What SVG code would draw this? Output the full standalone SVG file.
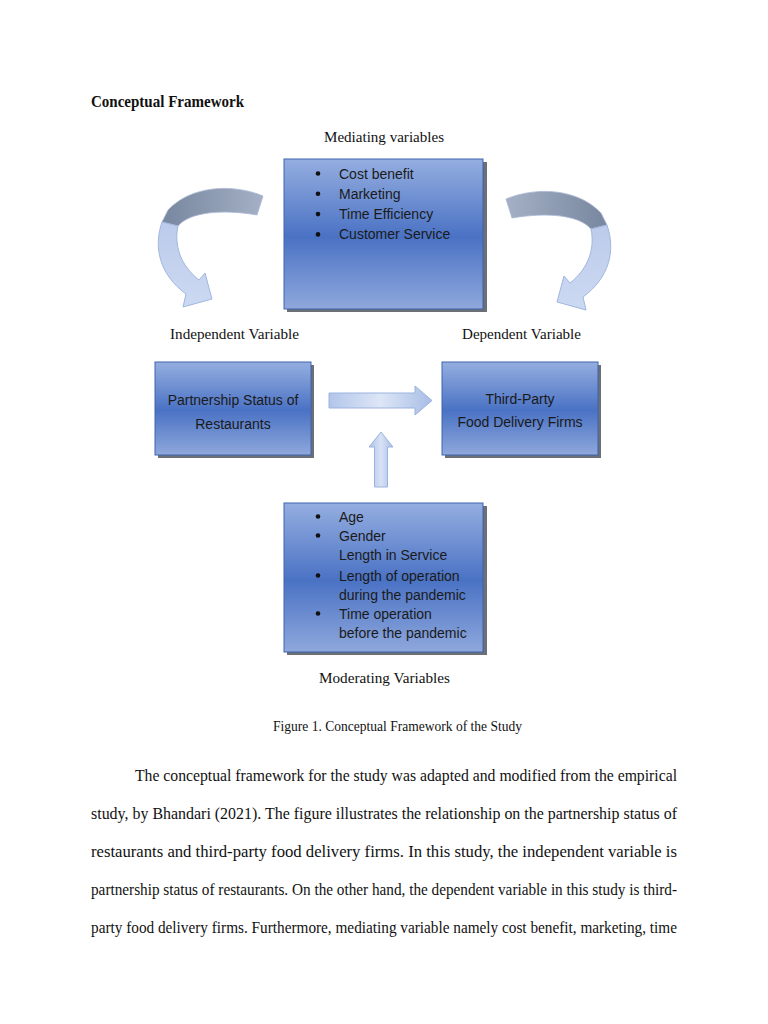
<svg xmlns="http://www.w3.org/2000/svg" width="768" height="1024" viewBox="0 0 768 1024">
<defs>
<linearGradient id="boxg" x1="0" y1="0" x2="0" y2="1">
<stop offset="0" stop-color="#95aee0"/>
<stop offset="0.52" stop-color="#4a72c4"/>
<stop offset="1" stop-color="#8fa8dc"/>
</linearGradient>
<linearGradient id="harr" x1="0" y1="0" x2="1" y2="0">
<stop offset="0" stop-color="#b2c5ea"/>
<stop offset="0.5" stop-color="#dde6f6"/>
<stop offset="1" stop-color="#a8bde6"/>
</linearGradient>
<linearGradient id="varr" x1="0" y1="0" x2="1" y2="0">
<stop offset="0" stop-color="#aec2e8"/>
<stop offset="0.5" stop-color="#d8e2f5"/>
<stop offset="1" stop-color="#a8bde6"/>
</linearGradient>
<linearGradient id="band" x1="0" y1="0" x2="1" y2="0">
<stop offset="0" stop-color="#77879f"/>
<stop offset="1" stop-color="#a4b0c5"/>
</linearGradient>
<linearGradient id="front" x1="0" y1="0" x2="0" y2="1">
<stop offset="0" stop-color="#bccbeb"/>
<stop offset="1" stop-color="#ccd9f2"/>
</linearGradient>
</defs>
<style>
.box{fill:url(#boxg);stroke:#3e64ad;stroke-width:1}
.shadow{fill:#3a3f4a;opacity:0.75}
.bt{font-family:"Liberation Sans",Arial,sans-serif;font-size:14px;fill:#1a1a1a}
.ct{font-family:"Liberation Sans",Arial,sans-serif;font-size:14px;fill:#1a1a1a;text-anchor:middle}
.lbl{font-family:"Liberation Serif","Times New Roman",serif;font-size:15.5px;fill:#111}
.para{font-family:"Liberation Serif","Times New Roman",serif;font-size:16px;fill:#111}
.arr{fill:url(#harr);stroke:#9bb2de;stroke-width:1}
.band{fill:url(#band);stroke:#a9b7d3;stroke-width:0.8}
.front{fill:url(#front);stroke:#a0b6df;stroke-width:1}
</style>
<rect width="768" height="1024" fill="#ffffff"/>

<text x="91" y="107" font-family="'Liberation Serif','Times New Roman',serif" font-size="16" font-weight="bold" fill="#111" textLength="153" lengthAdjust="spacingAndGlyphs">Conceptual Framework</text>

<text class="lbl" x="324" y="142" textLength="120" lengthAdjust="spacingAndGlyphs">Mediating variables</text>
<text class="lbl" x="170" y="339" textLength="129" lengthAdjust="spacingAndGlyphs">Independent Variable</text>
<text class="lbl" x="462" y="339" textLength="119" lengthAdjust="spacingAndGlyphs">Dependent Variable</text>
<text class="lbl" x="319" y="683" textLength="131" lengthAdjust="spacingAndGlyphs">Moderating Variables</text>
<text class="lbl" x="273" y="731" textLength="249" lengthAdjust="spacingAndGlyphs">Figure 1. Conceptual Framework of the Study</text>

<g id="mediating">
<rect class="shadow" x="287" y="162" width="200" height="150"/>
<rect class="box" x="284" y="159" width="199" height="150"/>
<g class="bt">
<circle cx="318" cy="173.5" r="2.3" fill="#111"/>
<circle cx="318" cy="193.8" r="2.3" fill="#111"/>
<circle cx="318" cy="214.1" r="2.3" fill="#111"/>
<circle cx="318" cy="234.4" r="2.3" fill="#111"/>
<text x="339" y="178.5">Cost benefit</text>
<text x="339" y="198.8">Marketing</text>
<text x="339" y="219.1">Time Efficiency</text>
<text x="339" y="239.4">Customer Service</text>
</g>
</g>

<g id="independent">
<rect class="shadow" x="158" y="365" width="156" height="93"/>
<rect class="box" x="155" y="362" width="156" height="93"/>
<text class="ct" x="233" y="405">Partnership Status of</text>
<text class="ct" x="233" y="429">Restaurants</text>
</g>

<g id="dependent">
<rect class="shadow" x="445" y="365" width="156" height="93"/>
<rect class="box" x="442" y="362" width="156" height="93"/>
<text class="ct" x="520" y="404">Third-Party</text>
<text class="ct" x="520" y="427">Food Delivery Firms</text>
</g>

<g id="moderating">
<rect class="shadow" x="287" y="506" width="200" height="149"/>
<rect class="box" x="284" y="503" width="199" height="149"/>
<g class="bt">
<circle cx="318" cy="516.5" r="2.3" fill="#111"/>
<circle cx="318" cy="535.5" r="2.3" fill="#111"/>
<circle cx="318" cy="575.5" r="2.3" fill="#111"/>
<circle cx="318" cy="613.5" r="2.3" fill="#111"/>
<text x="339" y="521.5">Age</text>
<text x="339" y="540.5">Gender</text>
<text x="339" y="559.5">Length in Service</text>
<text x="339" y="580.5">Length of operation</text>
<text x="339" y="599.5">during the pandemic</text>
<text x="339" y="618.5">Time operation</text>
<text x="339" y="637.5">before the pandemic</text>
</g>
</g>

<g id="connectors">
<path class="arr" d="M329,393 L415,393 L415,386 L432,400.5 L415,415 L415,408 L329,408 Z"/>
<path class="arr" style="fill:url(#varr)" d="M374.5,487 L374.5,447 L369,447 L381,432 L393,447 L387.5,447 L387.5,487 Z"/>
<g id="curve-left">
<path class="band" d="M263,196 C232,183 190,186 168,210 L162,222 L178,226 C190,212 222,209 257,215 Z"/>
<path class="front" d="M162,222 C153,248 160,275 186,294 L183,307 L212,299 L205,273 L199,280 C180,265 174,245 178,226 Z"/>
</g>
<g id="curve-right" transform="matrix(-1 0 0 1 769 3)">
<path class="band" d="M263,196 C232,183 190,186 168,210 L162,222 L178,226 C190,212 222,209 257,215 Z"/>
<path class="front" d="M162,222 C153,248 160,275 186,294 L183,307 L212,299 L205,273 L199,280 C180,265 174,245 178,226 Z"/>
</g>
</g>

<g id="paragraph" class="para">
<text x="135" y="780.5" textLength="542" lengthAdjust="spacingAndGlyphs">The conceptual framework for the study was adapted and modified from the empirical</text>
<text x="91" y="819" textLength="586" lengthAdjust="spacingAndGlyphs">study, by Bhandari (2021). The figure illustrates the relationship on the partnership status of</text>
<text x="91" y="857" textLength="586" lengthAdjust="spacingAndGlyphs">restaurants and third-party food delivery firms. In this study, the independent variable is</text>
<text x="91" y="895" textLength="586" lengthAdjust="spacingAndGlyphs">partnership status of restaurants. On the other hand, the dependent variable in this study is third-</text>
<text x="91" y="933" textLength="586" lengthAdjust="spacingAndGlyphs">party food delivery firms. Furthermore, mediating variable namely cost benefit, marketing, time</text>
</g>
</svg>
